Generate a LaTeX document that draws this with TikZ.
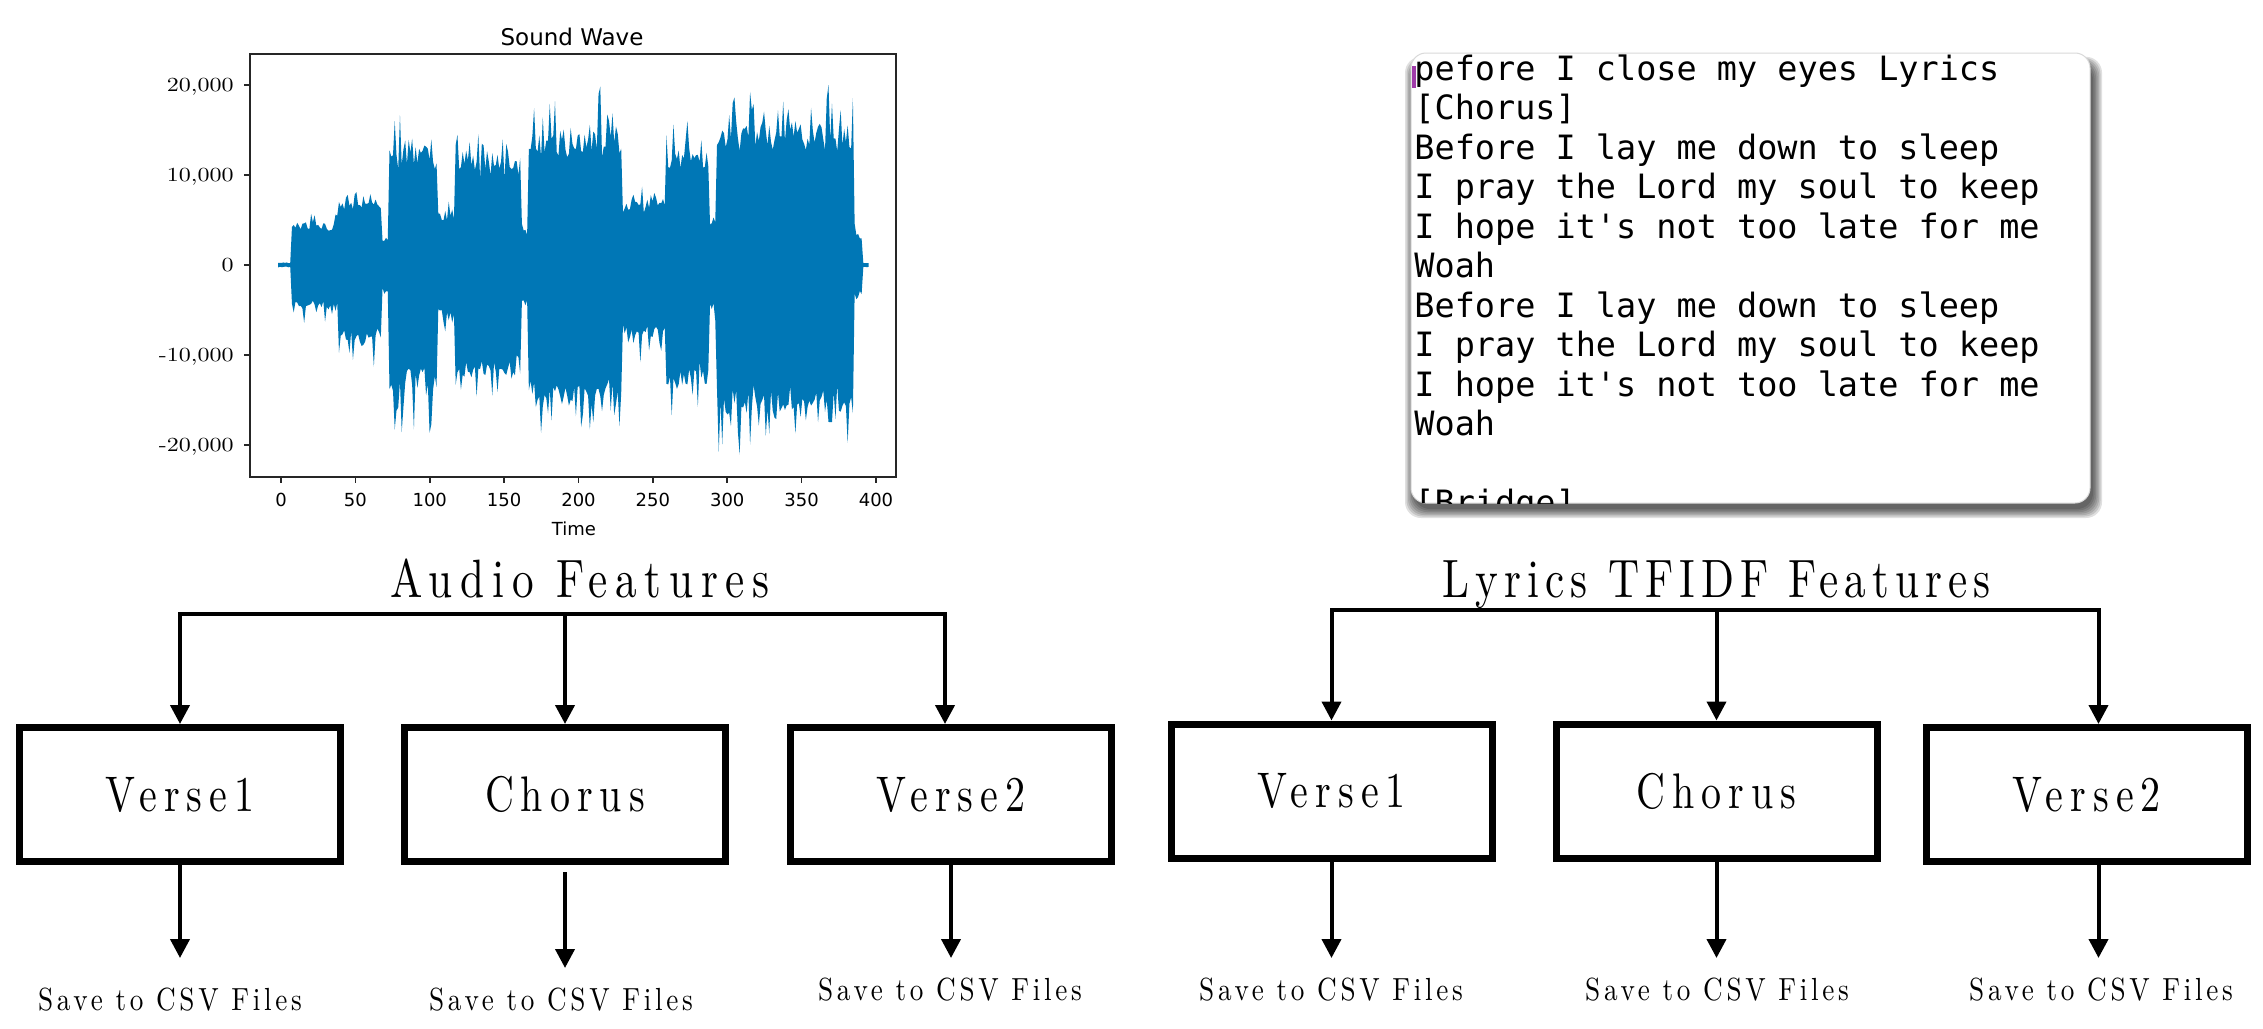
\documentclass[tikz,border=0pt]{standalone}
\usepackage{fontspec}
\usepackage{graphicx}
\usetikzlibrary{arrows.meta}
\setmonofont{DejaVu Sans Mono}
\newfontfamily\dejavu{DejaVu Sans}
\newfontfamily\lmw{lmroman10-regular}[Extension=.otf]
\definecolor{wave}{RGB}{0,119,182}
\definecolor{cursorpurple}{RGB}{160,60,170}
\newcommand\spaced[3]{\scalebox{#1}[1]{\addfontfeature{LetterSpace=#2}#3}}
\begin{document}
\begin{tikzpicture}[x=0.5pt,y=-0.5pt,
  conn/.style={line width=2pt,-{Triangle[length=9.5pt,width=9.5pt]}},
  segbox/.style={draw,line width=3.5pt,minimum width=160.5pt,minimum height=67pt,inner sep=0pt,font=\lmw\fontsize{25}{30}\selectfont},
  savelbl/.style={anchor=base,inner sep=0pt,font=\lmw\fontsize{16}{19}\selectfont},
  grouptitle/.style={anchor=base,inner sep=0pt,font=\lmw\fontsize{27}{32}\selectfont},
  ytlbl/.style={anchor=base east,inner sep=0pt,font=\lmw\fontsize{10}{12}\selectfont},
  xtlbl/.style={anchor=base,inner sep=0pt,font=\dejavu\fontsize{9}{11}\selectfont},
  lyric/.style={anchor=base west,inner sep=0pt,font=\ttfamily\fontsize{16.75}{19.75}\selectfont},
  axis/.style={line width=0.8pt,black!85}]
\useasboundingbox (0,0) rectangle (2263,1028);
\fill[white] (0,0) rectangle (2263,1028);

% ---------- sound wave plot ----------
\begin{scope}[shift={(281,265)},x=0.74375pt,y=4.5pt,
  declare function={
    envt(\t)=(\t<7)?0.22:((\t<38)?4.7:((\t<68)?7.6:((\t<72)?3:((\t<105)?13.2:((\t<117)?5.5:((\t<161)?11.8:((\t<166)?4:((\t<229)?14.8:((\t<232)?7:((\t<259)?7.2:((\t<288)?12.8:((\t<292)?5:((\t<385)?15.5:((\t<391)?3.5:0.22))))))))))))));
    envb(\t)=(\t<7)?0.22:((\t<38)?4.9:((\t<68)?8.4:((\t<72)?3:((\t<105)?14.2:((\t<117)?5.7:((\t<161)?12.4:((\t<166)?4:((\t<229)?15.7:((\t<232)?7:((\t<259)?8:((\t<288)?13.3:((\t<292)?5:((\t<385)?16.5:((\t<391)?3.5:0.22))))))))))))));
  }]
  \pgfmathsetseed{23}
  \fill[wave] plot[domain=-2:395,samples=340,variable=\t] (\t,{envt(\t)*(0.8+0.2*rnd+0.42*pow(rnd,5))})
    -- plot[domain=395:-2,samples=340,variable=\t] (\t,{-envb(\t)*(0.8+0.2*rnd+0.4*pow(rnd,5))}) -- cycle;
\end{scope}
\draw[axis] (250,54) rectangle (896,477);
\node[anchor=base,inner sep=0pt,font=\dejavu\fontsize{11.5}{14}\selectfont] (title) at (572,45) {Sound Wave};
\foreach \v/\lab [count=\i] in {20/{20,000},10/{10,000},0/{0},-10/{-10,000},-20/{-20,000}}{
  \draw[axis] (244,{265-9*\v}) -- (250,{265-9*\v});
  \node[ytlbl] (yt\i) at (234,{265-9*\v+6.5}) {\scalebox{1.2}[1]{\lab}};
}
\foreach \v [count=\i] in {0,50,...,400}{
  \draw[axis] ({281+1.4875*\v},477) -- ({281+1.4875*\v},483);
  \node[xtlbl] (xt\i) at ({281+1.4875*\v},506) {\v};
}
\node[xtlbl] (timelbl) at (574,535) {Time};

% ---------- lyrics panel ----------
\foreach \i in {0,...,6}{
  \fill[black,opacity=0.12,rounded corners=8pt] ({1414-1.5*\i},{64-1.2*\i}) rectangle ({2093+1.5*\i},{509+1.5*\i});
}
\fill[white,rounded corners=7.5pt] (1411,53) rectangle (2090,503);
\draw[gray!30,line width=0.5pt,rounded corners=7.5pt] (1411,53) rectangle (2090,503);
\begin{scope}
  \clip[rounded corners=7.5pt] (1411,53) rectangle (2090,503);
  \foreach \txt [count=\k from 0] in {pefore I close my eyes Lyrics,[Chorus],Before I lay me down to sleep,I pray the Lord my soul to keep,I hope it's not too late for me,Woah,Before I lay me down to sleep,I pray the Lord my soul to keep,I hope it's not too late for me,Woah,{},[Bridge]}{
    \node[lyric] (ly\k) at (1414,{80+39.5*\k}) {\txt};
  }
  \fill[cursorpurple] (1412,66) rectangle (1416,88);
\end{scope}

% ---------- audio features tree ----------
\node[grouptitle] (atitle) at (580,597) {\spaced{0.8}{18}{Audio Features}};
\node[segbox] (aV1) at (180,794.5) {\spaced{0.8}{17.5}{Verse1}};
\node[segbox] (aCh) at (565,794.5) {\spaced{0.8}{17.5}{Chorus}};
\node[segbox] (aV2) at (951,794.5) {\spaced{0.8}{17.5}{Verse2}};
\coordinate (ajL) at (565,614);
\draw[conn] (ajL) -| (aV1.north);
\draw[conn] (ajL) -- (aCh.north);
\draw[conn] (ajL) -| ([xshift=-3pt]aV2.north);
\coordinate (aT1) at (180,958);
\coordinate (aT2) at (565,968);
\coordinate (aT3) at (951,958);
\draw[conn] (aV1.south) -- (aT1);
\draw[conn] ([yshift=-3.5pt]aCh.south) -- (aT2);
\draw[conn] (aV2.south) -- (aT3);
\node[savelbl] (aS1) at (170,1010) {\spaced{0.85}{13.5}{Save to CSV Files}};
\node[savelbl] (aS2) at (561,1010) {\spaced{0.85}{13.5}{Save to CSV Files}};
\node[savelbl] (aS3) at (950,1000) {\spaced{0.85}{13.5}{Save to CSV Files}};

% ---------- lyrics TFIDF tree ----------
\node[grouptitle] (ltitle) at (1716.5,597) {\spaced{0.8}{14}{Lyrics TFIDF Features}};
\node[segbox] (lV1) at (1331.5,791) {\spaced{0.8}{17.5}{Verse1}};
\node[segbox] (lCh) at (1716.5,791) {\spaced{0.8}{17.5}{Chorus}};
\node[segbox] (lV2) at (2086.5,794.5) {\spaced{0.8}{17.5}{Verse2}};
\coordinate (ajR) at (1716.5,610);
\draw[conn] (ajR) -| (lV1.north);
\draw[conn] (ajR) -- (lCh.north);
\draw[conn] (ajR) -| ([xshift=6pt]lV2.north);
\coordinate (lT1) at (1331.5,958);
\coordinate (lT2) at (1716.5,958);
\coordinate (lT3) at (2098.5,958);
\draw[conn] (lV1.south) -- (lT1);
\draw[conn] (lCh.south) -- (lT2);
\draw[conn] ([xshift=6pt]lV2.south) -- (lT3);
\node[savelbl] (lS1) at (1331,1000) {\spaced{0.85}{13.5}{Save to CSV Files}};
\node[savelbl] (lS2) at (1717,1000) {\spaced{0.85}{13.5}{Save to CSV Files}};
\node[savelbl] (lS3) at (2101,1000) {\spaced{0.85}{13.5}{Save to CSV Files}};
\end{tikzpicture}
\end{document}
